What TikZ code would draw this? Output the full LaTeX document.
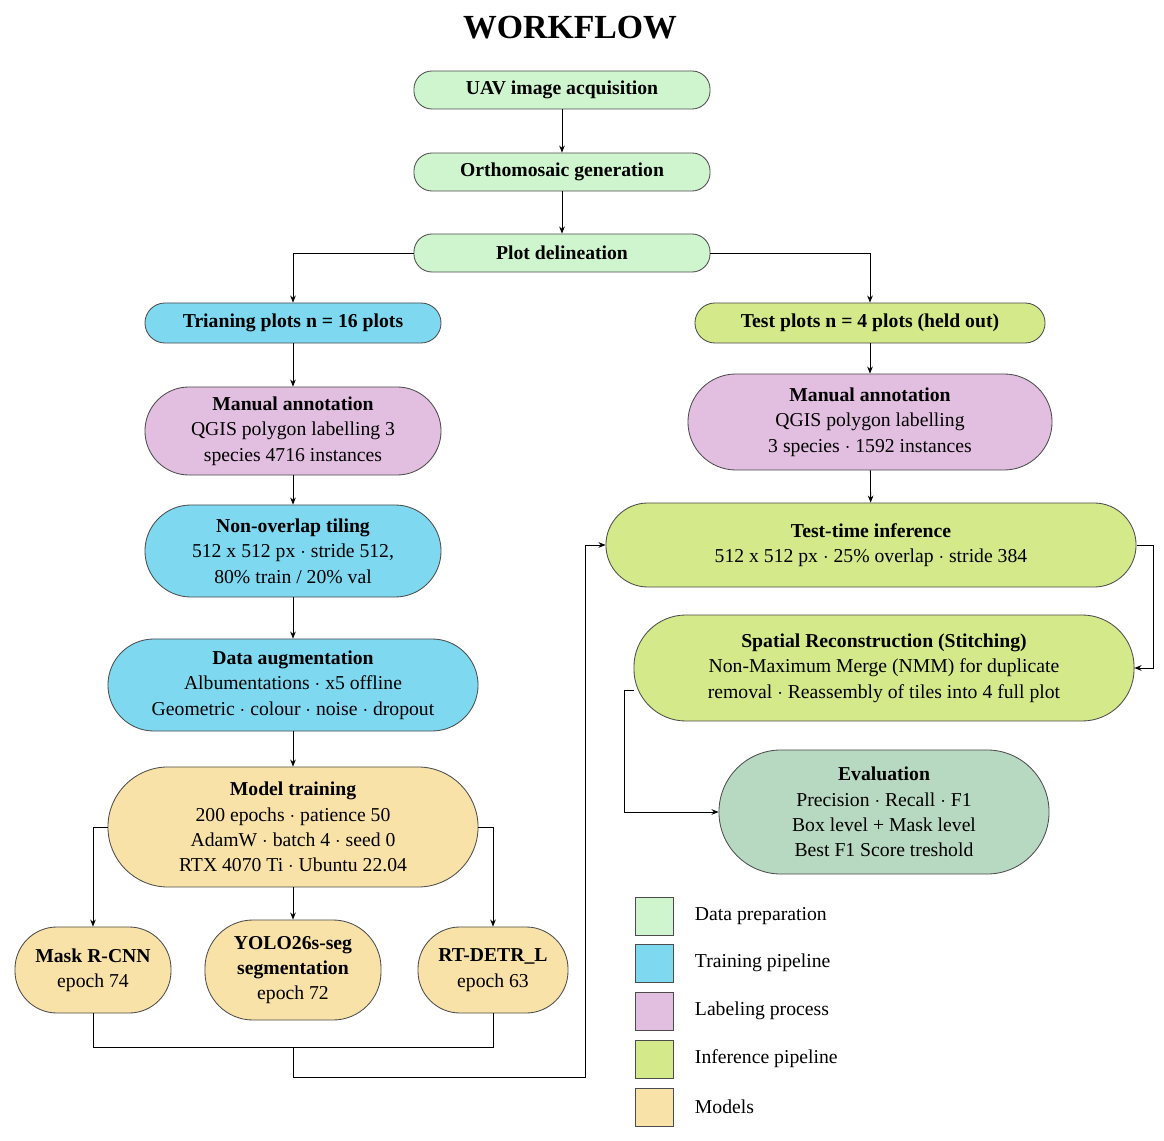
\documentclass[tikz,border=0pt]{standalone}
\usepackage{fontspec}
\setmainfont{Liberation Serif}
\usepackage{tikz}
\usetikzlibrary{arrows.meta}
\definecolor{prep}{HTML}{CFF5CF}
\definecolor{train}{HTML}{7DD8F0}
\definecolor{label}{HTML}{E2BEE0}
\definecolor{infer}{HTML}{D4E98A}
\definecolor{model}{HTML}{F8E2A8}
\definecolor{evalc}{HTML}{B7D8C1}
\tikzset{
  box/.style={draw=black!70, line width=0.6pt, align=center, font=\fontsize{14}{18}\selectfont, inner sep=1pt},
  arr/.style={-{Stealth[length=5pt,width=4pt]}, line width=0.6pt},
  ln/.style={line width=0.6pt},
  key/.style={draw=black!70, line width=0.6pt, minimum size=0.95cm, inner sep=0pt},
}
\begin{document}
\begin{tikzpicture}[x=0.025cm, y=-0.025cm]
        \useasboundingbox (0,0) rectangle (1164,1141);
        \node[font={\fontsize{24}{26}\selectfont\bfseries}] (title) at (570, 28) {WORKFLOW};
        % data preparation
        \node[box, fill=prep, minimum width=7.4cm, minimum height=0.95cm, rounded corners=0.45cm] (uav) at (562, 90) {\textbf{UAV image acquisition}};
        \node[box, fill=prep, minimum width=7.4cm, minimum height=0.95cm, rounded corners=0.45cm] (ortho) at (562, 172) {\textbf{Orthomosaic generation}};
        \node[box, fill=prep, minimum width=7.4cm, minimum height=0.95cm, rounded corners=0.45cm] (plot) at (562, 253) {\textbf{Plot delineation}};
        % training side
        \node[box, fill=train, minimum width=7.4cm, minimum height=1cm, rounded corners=0.5cm] (trainp) at (293, 323) {\textbf{Trianing plots n = 16 plots}};
        \node[box, fill=label, minimum width=7.4cm, minimum height=2.2cm, rounded corners=1.1cm] (annl) at (293, 431) {\textbf{Manual annotation}\\QGIS polygon labelling 3\\species 4716 instances};
        \node[box, fill=train, minimum width=7.4cm, minimum height=2.3cm, rounded corners=1.15cm] (tile) at (293, 551) {\textbf{Non-overlap tiling}\\512 x 512 px $\cdot$ stride 512,\\80\% train / 20\% val};
        \node[box, fill=train, minimum width=9.25cm, minimum height=2.3cm, rounded corners=1.15cm] (aug) at (293, 685) {\textbf{Data augmentation}\\Albumentations $\cdot$ x5 offline\\Geometric $\cdot$ colour $\cdot$ noise $\cdot$ dropout};
        \node[box, fill=model, minimum width=9.25cm, minimum height=3cm, rounded corners=1.5cm] (mtrain) at (293, 827) {\textbf{Model training}\\200 epochs $\cdot$ patience 50\\AdamW $\cdot$ batch 4 $\cdot$ seed 0\\RTX 4070 Ti $\cdot$ Ubuntu 22.04};
        \node[box, fill=model, minimum width=3.9cm, minimum height=2.15cm, rounded corners=1.05cm] (mask) at (93, 970) {\textbf{Mask R-CNN}\\epoch 74};
        \node[box, fill=model, minimum width=4.4cm, minimum height=2.5cm, rounded corners=1.2cm] (yolo) at (293, 970) {\textbf{YOLO26s-seg}\\\textbf{segmentation}\\epoch 72};
        \node[box, fill=model, minimum width=3.75cm, minimum height=2.15cm, rounded corners=1.05cm] (rtdetr) at (493, 970) {\textbf{RT-DETR\_L}\\epoch 63};
        % test side
        \node[box, fill=infer, minimum width=8.75cm, minimum height=1cm, rounded corners=0.5cm] (testp) at (870, 323) {\textbf{Test plots n = 4 plots (held out)}};
        \node[box, fill=label, minimum width=9.1cm, minimum height=2.4cm, rounded corners=1.2cm] (annr) at (870, 422) {\textbf{Manual annotation}\\QGIS polygon labelling\\3 species $\cdot$ 1592 instances};
        \node[box, fill=infer, minimum width=13.25cm, minimum height=2.1cm, rounded corners=1.05cm] (tti) at (871, 545) {\textbf{Test-time inference}\\512 x 512 px $\cdot$ 25\% overlap $\cdot$ stride 384};
        \node[box, fill=infer, minimum width=12.5cm, minimum height=2.65cm, rounded corners=1.3cm] (stitch) at (884, 668) {\textbf{Spatial Reconstruction (Stitching)}\\Non-Maximum Merge (NMM) for duplicate\\removal $\cdot$ Reassembly of tiles into 4 full plot};
        \node[box, fill=evalc, minimum width=8.25cm, minimum height=3.1cm, rounded corners=1.55cm] (eval) at (884, 812) {\textbf{Evaluation}\\Precision $\cdot$ Recall $\cdot$ F1\\Box level + Mask level\\Best F1 Score treshold};
        % connectors
        \draw[arr] (uav) -- (ortho);
        \draw[arr] (ortho) -- (plot);
        \draw[arr] (plot.west) -| (trainp.north);
        \draw[arr] (plot.east) -| (testp.north);
        \draw[arr] (trainp) -- (annl);
        \draw[arr] (annl) -- (tile);
        \draw[arr] (tile) -- (aug);
        \draw[arr] (aug) -- (mtrain);
        \draw[arr] (mtrain.west) -| (mask.north);
        \draw[arr] (mtrain) -- (yolo);
        \draw[arr] (mtrain.east) -| (rtdetr.north);
        \coordinate (jl) at (93, 1047);
        \coordinate (jm) at (293, 1047);
        \coordinate (jr) at (493, 1047);
        \coordinate (jb) at (585, 1077);
        \draw[ln] (mask.south) -- (jl) -- (jr) -- (rtdetr.south);
        \draw[arr] (jm) |- (jb) |- (tti.west);
        \draw[arr] (testp) -- (annr);
        \draw[arr] (annr) -- (tti);
        \coordinate (te) at (1153, 545);
        \draw[arr] (tti.east) -- (te) |- (stitch.east);
        \coordinate (sw) at (624, 690);
        \draw[arr] (stitch.west |- sw) -- (sw) |- (eval.west);
        % legend
        \node[key, fill=prep] (k1) at (654, 916) {};
        \node[key, fill=train] (k2) at (654, 963) {};
        \node[key, fill=label] (k3) at (654, 1011) {};
        \node[key, fill=infer] (k4) at (654, 1059) {};
        \node[key, fill=model] (k5) at (654, 1107) {};
        \node[font={\fontsize{14}{16}\selectfont}, anchor=west] (t1) at (690, 916) {Data preparation};
        \node[font={\fontsize{14}{16}\selectfont}, anchor=west] (t2) at (690, 963) {Training pipeline};
        \node[font={\fontsize{14}{16}\selectfont}, anchor=west] (t3) at (690, 1011) {Labeling process};
        \node[font={\fontsize{14}{16}\selectfont}, anchor=west] (t4) at (690, 1059) {Inference pipeline};
        \node[font={\fontsize{14}{16}\selectfont}, anchor=west] (t5) at (690, 1107) {Models};
    \end{tikzpicture}
\end{document}
